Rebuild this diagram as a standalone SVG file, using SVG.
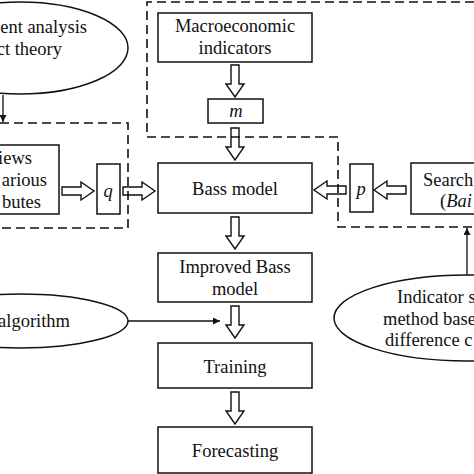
<svg xmlns="http://www.w3.org/2000/svg" width="474" height="474" viewBox="0 0 474 474">
<style>
text{font-family:"Liberation Serif","Times New Roman",serif;font-size:18.5px;fill:#111}
.box{fill:#fff;stroke:#111;stroke-width:1.5}
.ell{fill:#fff;stroke:#111;stroke-width:1.5}
.dash{fill:none;stroke:#111;stroke-width:1.6;stroke-dasharray:9 5}
.blk{fill:#fff;stroke:#111;stroke-width:1.4;stroke-linejoin:miter}
.ln{fill:none;stroke:#111;stroke-width:1.3}
.c{text-anchor:middle}
.e{text-anchor:end}
.i{font-style:italic}
</style>
<defs>
<path id="ba" d="M-4,0 H4 V19 H9 L0,32 L-9,19 H-4 Z"/>
<marker id="ah" viewBox="0 0 10 10" refX="10" refY="5" markerWidth="8" markerHeight="7" markerUnits="userSpaceOnUse" orient="auto"><path d="M0,0 L10,5 L0,10 Z" fill="#111"/></marker>
</defs>

<g id="topleft-ellipse">
<ellipse class="ell" cx="20" cy="48" rx="108" ry="46"/>
<text class="e" x="87" y="33">ent analysis</text>
<text class="e" x="62" y="55">ct theory</text>
</g>

<g id="algorithm-ellipse">
<ellipse class="ell" cx="20" cy="321" rx="108" ry="27"/>
<text class="e" x="70" y="327">algorithm</text>
</g>

<g id="indicator-ellipse">
<ellipse class="ell" cx="467" cy="318" rx="133" ry="43"/>
<text x="397" y="303">Indicator s</text>
<text x="383" y="325">method base</text>
<text x="385" y="346">difference c</text>
</g>

<g id="macro">
<rect class="box" x="158" y="13" width="154" height="49"/>
<text class="c" x="235" y="32">Macroeconomic</text>
<text class="c" x="235" y="54">indicators</text>
</g>

<g id="m">
<rect class="box" x="208" y="99" width="55" height="24"/>
<text class="c i" x="236" y="117">m</text>
</g>

<g id="reviews">
<rect class="box" x="-20" y="145" width="79" height="69"/>
<text class="e" x="32" y="164">iews</text>
<text class="e" x="47" y="186">arious</text>
<text class="e" x="41" y="208">butes</text>
</g>

<g id="q">
<rect class="box" x="97" y="164" width="23" height="50"/>
<text class="c i" x="108" y="197">q</text>
</g>

<g id="bass">
<rect class="box" x="158" y="163" width="154" height="50"/>
<text class="c" x="235" y="195">Bass model</text>
</g>

<g id="p">
<rect class="box" x="350" y="164" width="23" height="48"/>
<text class="c i" x="361" y="195">p</text>
</g>

<g id="search">
<rect class="box" x="411" y="163" width="80" height="51"/>
<text x="423" y="186">Search</text>
<text x="440" y="207">(<tspan class="i">Bai</tspan></text>
</g>

<g id="improved">
<rect class="box" x="158" y="253" width="154" height="49"/>
<text class="c" x="235" y="273">Improved Bass</text>
<text class="c" x="235" y="295">model</text>
</g>

<g id="training">
<rect class="box" x="158" y="343" width="154" height="45"/>
<text class="c" x="235" y="373">Training</text>
</g>

<g id="forecasting">
<rect class="box" x="158" y="427" width="154" height="46"/>
<text class="c" x="235" y="457">Forecasting</text>
</g>

<g id="connectors">
<use href="#ba" class="blk" transform="translate(235,65)"/>
<use href="#ba" class="blk" transform="translate(235,128)"/>
<use href="#ba" class="blk" transform="translate(235,217)"/>
<use href="#ba" class="blk" transform="translate(235,306)"/>
<use href="#ba" class="blk" transform="translate(235,392)"/>
<use href="#ba" class="blk" transform="translate(62,191) rotate(-90)"/>
<use href="#ba" class="blk" transform="translate(123,191) rotate(-90)"/>
<use href="#ba" class="blk" transform="translate(406,190) rotate(90)"/>
<use href="#ba" class="blk" transform="translate(346,190) rotate(90)"/>
<path class="ln" d="M3,95 V122" marker-end="url(#ah)"/>
<path class="ln" d="M128,321 H220" marker-end="url(#ah)"/>
<path class="ln" d="M467,275 V228" marker-end="url(#ah)"/>
</g>

<g id="groups">
<path class="dash" d="M474,2 H147 V137 H338 V227 H474"/>
<path class="dash" d="M0,123 H128 V228 H0"/>
</g>
</svg>
